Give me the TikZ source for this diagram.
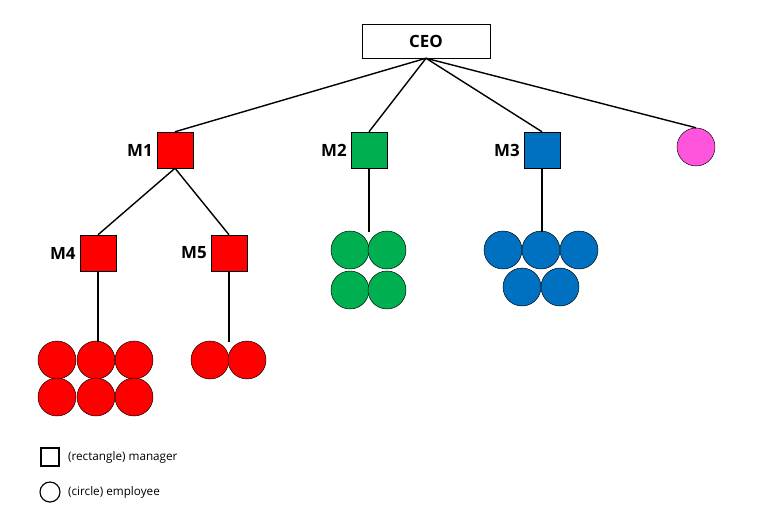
\documentclass[tikz,border=0pt]{standalone}
\usepackage{fontspec}
\setmainfont{Open Sans}
\usepackage{tikz}
\definecolor{mred}{HTML}{FF0000}
\definecolor{mgreen}{HTML}{00B050}
\definecolor{mblue}{HTML}{0070C0}
\definecolor{mpink}{HTML}{FF55DD}
\tikzstyle{boss} = [rectangle, draw=black, minimum width=3.84cm, minimum height=1.02cm, font=\bfseries\Large]
\tikzstyle{manager} = [rectangle, draw=black, minimum size=1.08cm, inner sep=0pt]
\tikzstyle{employee} = [circle, draw=black, minimum size=1.14cm, inner sep=0pt]
\tikzstyle{tag} = [font=\bfseries\Large, anchor=east]
\tikzstyle{link} = [line width=1.2pt]
\begin{document}
\begin{tikzpicture}[x=0.03cm, y=-0.03cm]
	\useasboundingbox (0,0) rectangle (767,512);
	
	\node (ceo) [boss] at (426,41) {CEO};
	\node (m1) [manager, fill=mred] at (175,150) {};
	\node (m2) [manager, fill=mgreen] at (369,150) {};
	\node (m3) [manager, fill=mblue] at (542,150) {};
	\node (e0) [employee, fill=mpink] at (696,147) {};
	\node [tag] at (m1.west) {M1};
	\node [tag] at (m2.west) {M2};
	\node [tag] at (m3.west) {M3};
	
	\draw [link] (ceo.south) -- (m1.north);
	\draw [link] (ceo.south) -- (m2.north);
	\draw [link] (ceo.south) -- (m3.north);
	\draw [link] (ceo.south) -- (e0.north);
	
	\node (m4) [manager, fill=mred] at (98,253) {};
	\node (m5) [manager, fill=mred] at (229,253) {};
	\node [tag] at (m4.west) {M4};
	\node [tag] at (m5.west) {M5};
	\draw [link] (m1.south) -- (m4.north);
	\draw [link] (m1.south) -- (m5.north);
	
	% employee groups
	\foreach \x/\y [count=\i] in {57/360,96/360,134/360,57/397,96/397,134/397}
		\node (a\i) [employee, fill=mred] at (\x,\y) {};
	\foreach \x/\y [count=\i] in {210/360,247/360}
		\node (b\i) [employee, fill=mred] at (\x,\y) {};
	\foreach \x/\y [count=\i] in {350/250,387/250,350/290,387/290}
		\node (c\i) [employee, fill=mgreen] at (\x,\y) {};
	\foreach \x/\y [count=\i] in {503/250,541/250,579/250,522/287,560/287}
		\node (d\i) [employee, fill=mblue] at (\x,\y) {};
	\coordinate (ta) at (98,342);
	\coordinate (tb) at (229,342);
	\coordinate (tc) at (369,232);
	\coordinate (td) at (542,232);
	\draw [link] (m4.south) -- (ta);
	\draw [link] (m5.south) -- (tb);
	\draw [link] (m2.south) -- (tc);
	\draw [link] (m3.south) -- (td);
	
	% legend
	\node (lm) [rectangle, draw=black, line width=1pt, minimum size=0.54cm] at (50,457) {};
	\node (le) [circle, draw=black, line width=1pt, minimum size=0.6cm] at (50,492) {};
	\node [anchor=west] at (64,457) {(rectangle) manager};
	\node [anchor=west] at (64,492) {(circle) employee};
	
\end{tikzpicture}
\end{document}
